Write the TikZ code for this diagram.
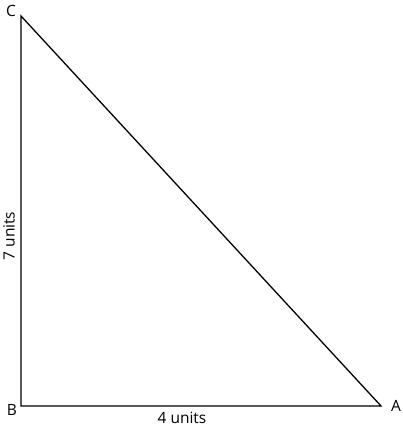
\documentclass[tikz,border=0pt]{standalone}
\usepackage{fontspec}
\setmainfont{Open Sans}
\begin{document}
\begin{tikzpicture}[x=1pt,y=-1pt,
  lbl/.style={inner sep=0pt,font=\fontsize{15.5}{18}\selectfont},
  edge/.style={line width=1.3pt,line join=miter}]
\useasboundingbox (0,0) rectangle (403,430);
\coordinate (C) at (21,16);
\coordinate (B) at (21,406);
\coordinate (A) at (381,406);
\draw[edge] (C) -- (B) -- (A) -- cycle;
\node[lbl] (lc) at (11,11) {C};
\node[lbl] (lb) at (12,410) {B};
\node[lbl] (la) at (396,406) {A};
\node[lbl,rotate=90] (l7) at (9,236) {7 units};
\node[lbl] (l4) at (182,418) {4 units};
\end{tikzpicture}
\end{document}
